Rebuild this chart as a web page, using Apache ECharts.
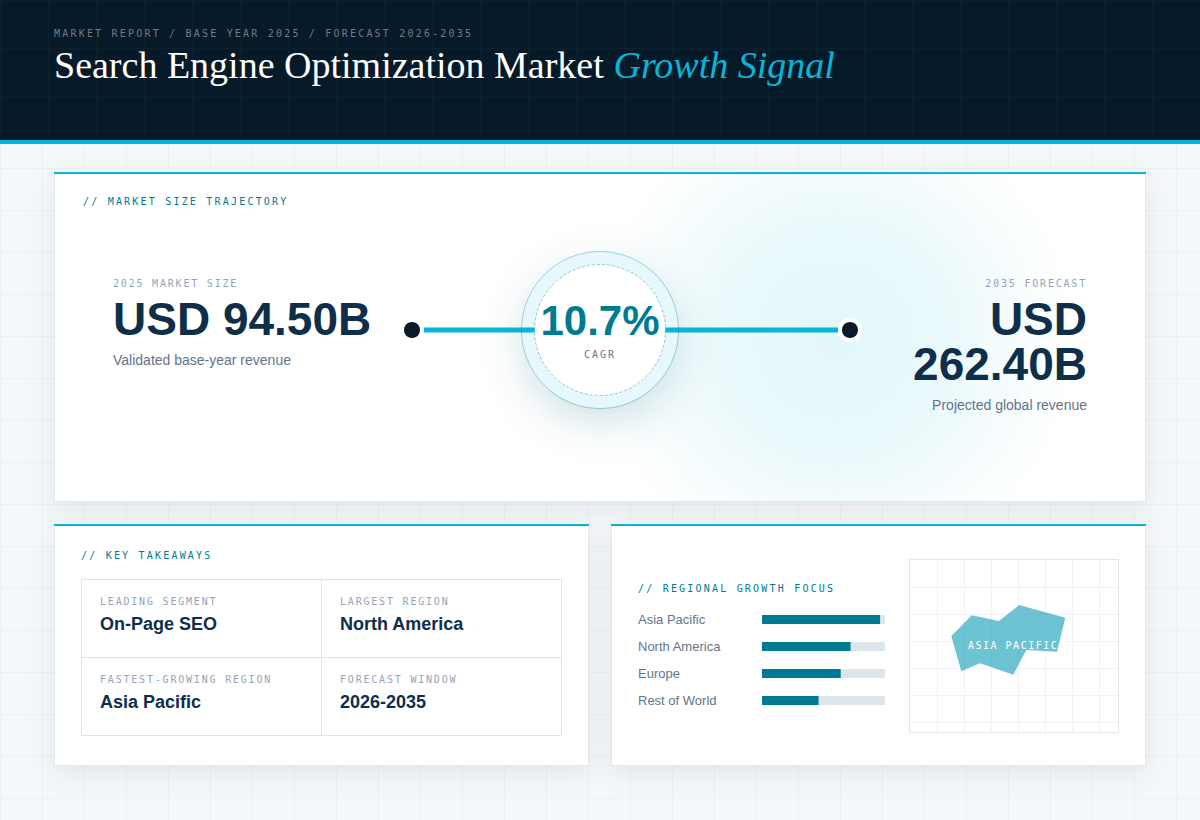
<!DOCTYPE html>
<html><head><meta charset="utf-8">
<style>html,body{margin:0;padding:0;background:#f5f8fa}#c{width:1200px;height:820px}</style>
<script src="https://cdn.jsdelivr.net/npm/echarts@6/dist/echarts.min.js"></script>
</head><body><div id="c"></div>
<script>
// ---- data ----
const headerKicker = 'MARKET REPORT / BASE YEAR 2025 / FORECAST 2026-2035';
const titleMain = 'Search Engine Optimization Market';
const titleAccent = 'Growth Signal';
const trajectoryYears = [2025, 2035];
const trajectoryRow = 'trajectory';
const sizeStart = 'USD 94.50B';
const sizeEnd = 'USD\n262.40B';
const cagrText = '10.7%';
const takeawayLabels = ['LEADING SEGMENT', 'LARGEST REGION', 'FASTEST-GROWING REGION', 'FORECAST WINDOW'];
const takeawayValues = ['On-Page SEO', 'North America', 'Asia Pacific', '2026-2035'];
const regions = ['Asia Pacific', 'North America', 'Europe', 'Rest of World'];
const regionValues = [96, 72, 64, 46];
const mapShapeX = [41.3, 61.7, 89, 109.3, 155.3, 147, 116.3, 103.3, 70, 51.3];
const mapShapeY = [76, 55.3, 61, 45, 57.7, 91.7, 90, 114.7, 103.3, 111.3];
const mapLabel = 'ASIA PACIFIC';

// ---- palette ----
const CYAN = '#06b6d4', TEAL = '#007a92', INK = '#0e2e4a', SLATE = '#64748b', MUTED = '#94a3b8', LINE = '#dde3e8';
const MONO = '"DejaVu Sans Mono", monospace', SANS = '"Liberation Sans", Arial, sans-serif', SERIF = '"Liberation Serif", serif';

const spacing = {};
function text(str, x, y, font, fill, align, ls, lineHeight) {
  if (ls) spacing[str] = ls;
  const style = { text: str, font, fill, textAlign: align || 'left', textVerticalAlign: 'middle' };
  if (lineHeight) style.lineHeight = lineHeight;
  return { type: 'text', silent: true, z: 10, x, y, style };
}
function hair(x1, y1, x2, y2, stroke) {
  return { type: 'line', silent: true, z: 0, shape: { x1, y1, x2, y2 }, style: { stroke, lineWidth: 1 } };
}
function card(x, y, w, h) {
  return [
    { type: 'rect', silent: true, z: 0, shape: { x, y, width: w, height: h }, style: { fill: '#fff', stroke: '#e2e8ec', lineWidth: 1, shadowBlur: 26, shadowOffsetY: 8, shadowColor: 'rgba(6,24,38,0.07)' } },
    { type: 'rect', silent: true, z: 0, shape: { x: x - 0.5, y: y - 0.5, width: w + 1, height: 2 }, style: { fill: CYAN } }
  ];
}

// ---- back layer ----
const back = [];
back.push({ type: 'rect', silent: true, z: 0, shape: { x: 0, y: 0, width: 1200, height: 820 }, style: { fill: '#f5f8fa' } });
for (let x = 0; x < 1200; x += 42) back.push(hair(x + .5, 144, x + .5, 820, '#ecf0f3'));
for (let y = 168; y < 820; y += 42) back.push(hair(0, y + .5, 1200, y + .5, '#ecf0f3'));
back.push({ type: 'rect', silent: true, z: 0, shape: { x: 0, y: 0, width: 1200, height: 140 }, style: { fill: '#071a29' } });
for (let x = 0; x < 1200; x += 48) back.push(hair(x + .5, 0, x + .5, 140, '#0c202e'));
for (let y = 0; y < 140; y += 48) back.push(hair(0, y + .5, 1200, y + .5, '#0c202e'));
back.push({ type: 'rect', silent: true, z: 0, shape: { x: 0, y: 140, width: 1200, height: 4 }, style: { fill: CYAN } });
back.push(...card(54.5, 172.5, 1091, 329), ...card(54.5, 524.5, 534, 241), ...card(611.5, 524.5, 534, 241));
// glow of the top card
back.push({ type: 'rect', silent: true, z: 0, shape: { x: 590, y: 174, width: 555, height: 327 },
  style: { fill: { type: 'radial', x: 835, y: 340, r: 245, global: true, colorStops: [
    { offset: 0, color: 'rgba(6,182,212,0.115)' }, { offset: 0.45, color: 'rgba(6,182,212,0.085)' },
    { offset: 0.75, color: 'rgba(6,182,212,0.035)' }, { offset: 1, color: 'rgba(6,182,212,0)' }] } } });
// halo shadow of the CAGR badge
back.push({ type: 'circle', silent: true, z: 0, shape: { cx: 600, cy: 330, r: 78 },
  style: { fill: '#fff', shadowBlur: 40, shadowOffsetY: 14, shadowColor: 'rgba(0,90,110,0.18)' } });
// map panel
back.push({ type: 'rect', silent: true, z: 0, shape: { x: 909.5, y: 559.5, width: 209, height: 173 }, style: { fill: '#fff', stroke: '#dfe5e9', lineWidth: 1 } });
for (let x = 937; x < 1118; x += 27) back.push(hair(x + .5, 560, x + .5, 732, '#f0f3f6'));
for (let y = 587; y < 732; y += 27) back.push(hair(910, y + .5, 1118, y + .5, '#f0f3f6'));
// takeaway table
back.push({ type: 'rect', silent: true, z: 0, shape: { x: 81.5, y: 579.5, width: 480, height: 156 }, style: { fill: '#fff', stroke: LINE, lineWidth: 1 } });
back.push(hair(321.5, 580, 321.5, 735, LINE), hair(82, 657.5, 561, 657.5, LINE));

// ---- front layer ----
const front = [];
front.push({ type: 'circle', silent: true, z: 5, shape: { cx: 600, cy: 330, r: 78.5 }, style: { fill: 'rgba(6,182,212,0.1)', stroke: 'rgba(0,122,146,0.3)', lineWidth: 1 } });
front.push({ type: 'circle', silent: true, z: 6, shape: { cx: 600, cy: 330, r: 65.5 }, style: { fill: '#fff', stroke: 'rgba(0,122,146,0.4)', lineWidth: 1, lineDash: [3, 2] } });
const M10 = '10px ' + MONO;
front.push(text(headerKicker, 54, 33, M10, '#6f7b85', 'left', 2.2));
front.push(text(titleMain, 54, 65, '38px ' + SERIF, '#ffffff'));
front.push(text(titleAccent, 613.5, 65, 'italic 38px ' + SERIF, CYAN));
front.push(text('// MARKET SIZE TRAJECTORY', 83, 201, M10, TEAL, 'left', 2.2));
front.push(text('2025 MARKET SIZE', 113, 283.5, M10, MUTED, 'left', 1.8));
front.push(text(sizeStart, 113, 319, 'bold 46px ' + SANS, INK));
front.push(text('Validated base-year revenue', 113, 360, '14px ' + SANS, SLATE));
front.push(text('2035 FORECAST', 1087, 283.5, M10, MUTED, 'right', 1.8));
front.push(text(sizeEnd, 1087, 341.5, 'bold 46px ' + SANS, INK, 'right', 0, 45));
front.push(text('Projected global revenue', 1087, 405, '14px ' + SANS, SLATE, 'right'));
front.push(text(cagrText, 600, 320, 'bold 42px ' + SANS, TEAL, 'center'));
front.push(text('CAGR', 600, 354, M10, SLATE, 'center', 2));
front.push(text('// KEY TAKEAWAYS', 81, 555, M10, TEAL, 'left', 2.2));
const cellX = [100, 340, 100, 340], cellY = [601, 601, 679, 679];
takeawayLabels.forEach((t, i) => front.push(text(t, cellX[i], cellY[i], M10, MUTED, 'left', 1.8)));
takeawayValues.forEach((t, i) => front.push(text(t, cellX[i], cellY[i] + 23, 'bold 18px ' + SANS, INK)));
front.push(text('// REGIONAL GROWTH FOCUS', 638, 588.5, M10, TEAL, 'left', 2.2));
front.push(text(mapLabel, 968, 645, M10, '#ffffff', 'left', 1.5));

const chart = echarts.init(document.getElementById('c'), null, { renderer: 'svg', width: 1200, height: 820 });
chart.setOption({
  animation: false,
  backgroundColor: '#f5f8fa',
  tooltip: { show: false },
  graphic: { elements: back.concat(front) },
  grid: [
    { left: 412, width: 438, top: 300, height: 60 },
    { left: 762, width: 123, top: 606, height: 108 },
    { left: 910, width: 208, top: 560, height: 172 }
  ],
  xAxis: [
    { gridIndex: 0, type: 'value', min: trajectoryYears[0], max: trajectoryYears[1], show: false },
    { gridIndex: 1, type: 'value', min: 0, max: 100, show: false },
    { gridIndex: 2, type: 'value', min: 0, max: 208, show: false }
  ],
  yAxis: [
    { gridIndex: 0, type: 'category', data: [trajectoryRow], show: false },
    { gridIndex: 1, type: 'category', data: regions, inverse: true,
      axisLine: { show: false }, axisTick: { show: false },
      axisLabel: { align: 'left', margin: 124, color: SLATE, fontSize: 13, fontFamily: SANS } },
    { gridIndex: 2, type: 'value', min: 0, max: 172, inverse: true, show: false }
  ],
  series: [
    { type: 'line', xAxisIndex: 0, yAxisIndex: 0, z: 2, silent: true, clip: false,
      data: trajectoryYears.map(y => [y, trajectoryRow]),
      symbol: 'circle', symbolSize: 20, showSymbol: true,
      lineStyle: { color: CYAN, width: 5 },
      itemStyle: { color: '#0b1a28', borderColor: '#fff', borderWidth: 4 } },
    { type: 'bar', xAxisIndex: 1, yAxisIndex: 1, z: 2, silent: true, barWidth: 9,
      data: regionValues, showBackground: true,
      backgroundStyle: { color: '#dce5ec' }, itemStyle: { color: TEAL } },
    { type: 'custom', xAxisIndex: 2, yAxisIndex: 2, z: 2, silent: true, clip: false,
      data: [0],
      renderItem: (params, api) => ({
        type: 'polygon',
        shape: { points: mapShapeX.map((x, i) => api.coord([x, mapShapeY[i]])) },
        style: { fill: 'rgba(0,149,175,0.57)' }
      }) }
  ]
});
function applySpacing() {
  document.querySelectorAll('#c svg text').forEach(t => {
    const ls = spacing[t.textContent];
    if (ls) t.style.letterSpacing = ls + 'px';
  });
}
applySpacing();
chart.on('finished', applySpacing);
requestAnimationFrame(applySpacing);
setTimeout(applySpacing, 100);
</script></body></html>
